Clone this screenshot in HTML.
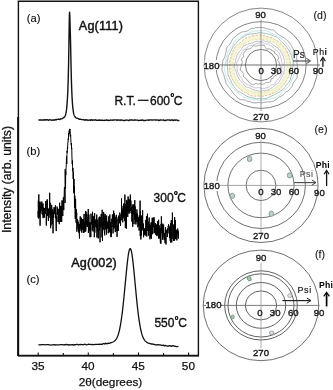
<!DOCTYPE html>
<html><head><meta charset="utf-8"><title>XRD figure</title>
<style>html,body{margin:0;padding:0;background:#fff;width:333px;height:390px;overflow:hidden}svg{display:block}</style>
</head><body>
<svg width="333" height="390" viewBox="0 0 333 390"><path d="M18.4 117 V1.2 H198.4 V355.6 H18.4 V117" fill="none" stroke="#111" stroke-width="1.4"/>
<line x1="18.1" y1="117" x2="18.1" y2="356" stroke="#111" stroke-width="2"/>
<line x1="18" y1="355.6" x2="199" y2="355.6" stroke="#111" stroke-width="1.8"/>
<line x1="38.2" y1="355" x2="38.2" y2="352.4" stroke="#111" stroke-width="1.1"/>
<line x1="63.3" y1="355" x2="63.3" y2="353.0" stroke="#111" stroke-width="1.1"/>
<line x1="88.3" y1="355" x2="88.3" y2="352.4" stroke="#111" stroke-width="1.1"/>
<line x1="113.4" y1="355" x2="113.4" y2="353.0" stroke="#111" stroke-width="1.1"/>
<line x1="138.5" y1="355" x2="138.5" y2="352.4" stroke="#111" stroke-width="1.1"/>
<line x1="163.6" y1="355" x2="163.6" y2="353.0" stroke="#111" stroke-width="1.1"/>
<line x1="188.6" y1="355" x2="188.6" y2="352.4" stroke="#111" stroke-width="1.1"/>
<path d="M38.40 120.00 L39.20 119.88 L40.00 120.23 L40.80 119.82 L41.60 120.14 L42.40 120.01 L43.20 119.79 L44.00 120.10 L44.80 119.76 L45.60 120.03 L46.40 119.77 L47.20 119.77 L48.00 120.00 L48.80 120.27 L49.60 119.76 L50.40 119.81 L51.20 120.08 L52.00 120.28 L52.80 119.99 L53.60 119.84 L54.40 120.21 L55.20 119.51 L56.00 120.02 L56.80 119.55 L57.60 119.37 L58.40 119.24 L59.20 119.25 L60.00 119.45 L60.80 118.80 L61.60 118.83 L62.40 118.55 L63.20 117.94 L64.00 117.43 L64.80 116.46 L64.90 116.29 L65.00 116.11 L65.10 115.90 L65.20 115.69 L65.30 115.44 L65.40 115.18 L65.50 114.89 L65.60 114.57 L65.70 114.22 L65.80 113.84 L65.90 113.41 L66.00 112.95 L66.10 112.43 L66.20 111.87 L66.30 111.25 L66.40 110.57 L66.50 109.83 L66.60 109.01 L66.70 108.12 L66.80 107.15 L66.90 106.09 L67.00 104.93 L67.10 103.67 L67.20 102.30 L67.30 100.82 L67.40 99.20 L67.50 97.44 L67.60 95.52 L67.70 93.44 L67.80 91.16 L67.90 88.68 L68.00 85.96 L68.10 82.97 L68.20 79.68 L68.30 76.05 L68.40 72.03 L68.50 67.57 L68.60 62.65 L68.70 57.22 L68.80 51.30 L68.90 44.93 L69.00 38.26 L69.10 31.55 L69.20 25.17 L69.30 19.61 L69.40 15.39 L69.50 12.87 L69.60 12.22 L69.70 13.25 L69.80 15.58 L69.90 18.70 L70.00 22.18 L70.10 25.72 L70.20 29.20 L70.30 32.69 L70.40 36.30 L70.50 40.19 L70.60 44.45 L70.70 49.05 L70.80 53.87 L70.90 58.76 L71.00 63.55 L71.10 68.12 L71.20 72.41 L71.30 76.36 L71.40 79.99 L71.50 83.29 L71.60 86.31 L71.70 89.05 L71.80 91.55 L71.90 93.83 L72.00 95.91 L72.10 97.82 L72.20 99.56 L72.30 101.16 L72.40 102.63 L72.50 103.97 L72.60 105.21 L72.70 106.34 L72.80 107.38 L72.90 108.33 L73.00 109.19 L73.10 109.99 L73.20 110.71 L73.30 111.38 L73.40 111.98 L73.50 112.53 L73.60 113.03 L73.70 113.49 L73.80 113.91 L73.90 114.29 L74.00 114.63 L74.10 114.94 L74.20 115.23 L74.30 115.49 L74.40 115.73 L74.50 115.95 L74.60 116.15 L75.40 117.28 L76.20 117.98 L77.00 118.09 L77.80 118.42 L78.60 118.79 L79.40 119.32 L80.20 119.31 L81.00 119.37 L81.80 119.66 L82.60 119.66 L83.40 119.62 L84.20 120.02 L85.00 120.00 L85.80 119.72 L86.60 119.99 L87.40 119.98 L88.20 120.25 L89.00 120.16 L89.80 119.87 L90.60 120.37 L91.40 119.78 L92.20 120.00 L93.00 120.25 L93.80 119.83 L94.60 120.08 L95.40 119.77 L96.20 120.22 L97.00 120.29 L97.80 120.16 L98.60 120.38 L99.40 119.99 L100.20 120.26 L101.00 120.19 L101.80 120.19 L102.60 120.10 L103.40 120.37 L104.20 120.45 L105.00 120.12 L105.80 120.26 L106.60 119.84 L107.40 120.29 L108.20 120.25 L109.00 120.50 L109.80 120.38 L110.60 120.01 L111.40 120.08 L112.20 120.28 L113.00 119.83 L113.80 120.14 L114.60 119.93 L115.40 119.90 L116.20 119.86 L117.00 120.36 L117.80 119.91 L118.60 119.99 L119.40 120.09 L120.20 120.43 L121.00 119.88 L121.80 120.14 L122.60 120.21 L123.40 120.44 L124.20 120.40 L125.00 120.43 L125.80 120.02 L126.60 120.12 L127.40 120.08 L128.20 120.45 L129.00 120.50 L129.80 119.94 L130.60 119.95 L131.40 119.99 L132.20 119.99 L133.00 120.17 L133.80 120.24 L134.60 120.02 L135.40 119.84 L136.20 120.13 L137.00 120.09 L137.80 120.23 L138.60 120.50 L139.40 120.32 L140.20 120.20 L141.00 120.27 L141.80 120.31 L142.60 119.87 L143.40 120.47 L144.20 120.38 L145.00 120.45 L145.80 120.40 L146.60 120.11 L147.40 120.12 L148.20 119.91 L149.00 120.28 L149.80 119.88 L150.60 119.89 L151.40 119.99 L152.20 119.95 L153.00 120.08 L153.80 119.88 L154.60 119.84 L155.40 119.95 L156.20 119.91 L157.00 120.10 L157.80 119.86 L158.60 120.45 L159.40 120.27 L160.20 119.95 L161.00 120.02 L161.80 120.08 L162.60 120.10 L163.40 119.93 L164.20 120.44 L165.00 120.54 L165.80 120.17 L166.60 120.18 L167.40 119.90 L168.20 119.91 L169.00 120.08 L169.80 120.03 L170.60 120.42 L171.40 119.96 L172.20 119.86 L173.00 120.51 L173.80 120.21 L174.60 119.95 L175.40 120.22 L176.20 119.86 L177.00 120.21 L177.80 120.53 L178.60 120.45 L179.40 120.33" fill="none" stroke="#111" stroke-width="1.4" stroke-linejoin="round"/>
<path d="M38.00 211.07 L38.16 217.62 L38.32 200.64 L38.48 209.28 L38.64 218.54 L38.80 194.40 L38.96 215.95 L39.12 202.04 L39.28 217.48 L39.44 212.84 L39.60 206.99 L39.76 208.04 L39.92 201.51 L40.08 225.73 L40.24 205.98 L40.40 212.79 L40.56 211.41 L40.72 211.47 L40.88 204.19 L41.04 202.25 L41.20 210.74 L41.36 207.64 L41.52 210.00 L41.68 209.75 L41.84 201.55 L42.00 214.25 L42.16 213.36 L42.32 211.79 L42.48 206.97 L42.64 204.58 L42.80 215.34 L42.96 203.33 L43.12 218.17 L43.28 209.17 L43.44 213.13 L43.60 216.70 L43.76 207.73 L43.92 209.43 L44.08 217.06 L44.24 208.82 L44.40 217.55 L44.56 208.26 L44.72 213.08 L44.88 210.53 L45.04 212.68 L45.20 208.50 L45.36 213.78 L45.52 213.69 L45.68 201.13 L45.84 213.37 L46.00 212.84 L46.16 213.93 L46.32 225.55 L46.48 214.57 L46.64 220.83 L46.80 210.78 L46.96 200.65 L47.12 211.67 L47.28 199.34 L47.44 210.39 L47.60 215.67 L47.76 209.63 L47.92 207.98 L48.08 215.83 L48.24 213.62 L48.40 217.65 L48.56 220.92 L48.72 208.98 L48.88 217.08 L49.04 217.88 L49.20 215.29 L49.36 209.92 L49.52 206.91 L49.68 192.74 L49.84 210.74 L50.00 214.71 L50.16 202.87 L50.32 215.09 L50.48 207.95 L50.64 228.18 L50.80 214.32 L50.96 225.55 L51.12 215.96 L51.28 210.35 L51.44 218.25 L51.60 204.85 L51.76 205.15 L51.92 210.91 L52.08 210.59 L52.24 223.97 L52.40 212.56 L52.56 213.88 L52.72 209.20 L52.88 209.89 L53.04 233.28 L53.20 214.26 L53.36 211.41 L53.52 211.48 L53.68 217.70 L53.84 211.86 L54.00 207.39 L54.16 207.15 L54.32 210.47 L54.48 208.39 L54.64 214.09 L54.80 213.18 L54.96 208.13 L55.12 212.50 L55.28 207.44 L55.44 205.38 L55.60 218.36 L55.76 211.96 L55.92 217.19 L56.08 225.55 L56.24 231.10 L56.40 218.41 L56.56 221.94 L56.72 216.28 L56.88 221.56 L57.04 206.55 L57.20 208.36 L57.36 214.76 L57.52 208.51 L57.68 211.70 L57.84 212.92 L58.00 213.34 L58.16 208.82 L58.32 221.93 L58.48 218.36 L58.64 219.77 L58.80 211.22 L58.96 211.09 L59.12 220.60 L59.28 224.18 L59.44 213.86 L59.60 202.71 L59.76 210.20 L59.92 210.33 L60.08 205.91 L60.24 212.01 L60.40 221.47 L60.56 206.55 L60.72 221.82 L60.88 212.91 L61.04 220.54 L61.20 218.70 L61.36 206.15 L61.52 208.80 L61.68 221.89 L61.84 210.27 L62.00 200.39 L62.16 207.21 L62.32 208.58 L62.48 210.37 L62.64 210.10 L62.80 216.00 L62.96 200.92 L63.12 209.56 L63.28 197.78 L63.44 197.32 L63.60 201.60 L63.76 210.11 L63.92 201.22 L64.08 197.91 L64.24 193.29 L64.40 187.05 L64.56 187.04 L64.72 192.07 L64.88 193.11 L65.04 203.07 L65.20 169.27 L65.36 181.60 L65.52 188.81 L65.68 172.34 L65.84 174.81 L66.00 169.06 L66.16 167.45 L66.32 164.66 L66.48 156.57 L66.64 161.69 L66.80 164.00 L66.96 154.65 L67.12 150.86 L67.28 152.63 L67.44 147.33 L67.60 148.59 L67.76 144.07 L67.92 142.16 L68.08 142.14 L68.24 138.90 L68.40 139.79 L68.56 133.08 L68.72 136.46 L68.88 133.37 L69.04 133.58 L69.20 130.64 L69.36 133.64 L69.52 128.88 L69.68 129.98 L69.84 130.12 L70.00 129.10 L70.16 131.10 L70.32 133.07 L70.48 136.25 L70.64 134.76 L70.80 138.80 L70.96 142.30 L71.12 144.31 L71.28 145.28 L71.44 143.02 L71.60 149.00 L71.76 148.19 L71.92 155.97 L72.08 160.63 L72.24 164.21 L72.40 160.37 L72.56 166.20 L72.72 171.29 L72.88 168.00 L73.04 172.45 L73.20 179.01 L73.36 171.80 L73.52 177.82 L73.68 189.48 L73.84 192.54 L74.00 178.90 L74.16 193.45 L74.32 186.09 L74.48 207.72 L74.64 204.64 L74.80 195.65 L74.96 204.40 L75.12 213.56 L75.28 219.04 L75.44 204.86 L75.60 198.83 L75.76 211.13 L75.92 212.05 L76.08 222.62 L76.24 216.80 L76.40 209.39 L76.56 215.43 L76.72 212.99 L76.88 231.61 L77.04 218.95 L77.20 219.25 L77.36 219.20 L77.52 225.73 L77.68 222.06 L77.84 220.39 L78.00 228.88 L78.16 223.24 L78.32 222.14 L78.48 231.50 L78.64 228.18 L78.80 224.25 L78.96 226.63 L79.12 233.36 L79.28 227.83 L79.44 238.59 L79.60 224.17 L79.76 227.89 L79.92 230.40 L80.08 221.81 L80.24 216.34 L80.40 228.30 L80.56 220.78 L80.72 226.55 L80.88 226.01 L81.04 224.73 L81.20 231.22 L81.36 217.71 L81.52 222.32 L81.68 227.46 L81.84 232.70 L82.00 225.91 L82.16 226.90 L82.32 227.32 L82.48 229.89 L82.64 219.21 L82.80 224.82 L82.96 219.20 L83.12 223.16 L83.28 220.51 L83.44 219.97 L83.60 232.91 L83.76 224.38 L83.92 232.55 L84.08 213.92 L84.24 226.68 L84.40 231.74 L84.56 227.41 L84.72 226.01 L84.88 223.83 L85.04 228.75 L85.20 222.08 L85.36 229.25 L85.52 210.95 L85.68 231.68 L85.84 230.22 L86.00 227.62 L86.16 211.75 L86.32 223.62 L86.48 224.43 L86.64 223.22 L86.80 221.27 L86.96 214.42 L87.12 226.96 L87.28 221.74 L87.44 226.65 L87.60 217.11 L87.76 225.32 L87.92 226.28 L88.08 225.89 L88.24 209.00 L88.40 232.89 L88.56 228.91 L88.72 229.38 L88.88 214.65 L89.04 222.09 L89.20 223.24 L89.36 229.15 L89.52 224.15 L89.68 230.90 L89.84 222.05 L90.00 237.21 L90.16 224.54 L90.32 229.03 L90.48 223.07 L90.64 228.50 L90.80 237.06 L90.96 213.61 L91.12 215.70 L91.28 218.11 L91.44 220.97 L91.60 224.36 L91.76 224.33 L91.92 224.10 L92.08 223.73 L92.24 230.24 L92.40 223.24 L92.56 211.72 L92.72 219.93 L92.88 227.80 L93.04 231.50 L93.20 226.09 L93.36 227.22 L93.52 216.40 L93.68 221.36 L93.84 219.89 L94.00 221.74 L94.16 219.45 L94.32 237.20 L94.48 220.73 L94.64 213.16 L94.80 232.73 L94.96 226.76 L95.12 226.51 L95.28 225.29 L95.44 221.76 L95.60 226.91 L95.76 219.30 L95.92 224.58 L96.08 221.27 L96.24 225.92 L96.40 226.83 L96.56 227.69 L96.72 214.61 L96.88 237.46 L97.04 228.44 L97.20 223.29 L97.36 223.04 L97.52 231.48 L97.68 219.62 L97.84 222.03 L98.00 222.39 L98.16 238.44 L98.32 228.59 L98.48 234.25 L98.64 237.65 L98.80 233.46 L98.96 217.45 L99.12 222.39 L99.28 230.27 L99.44 226.54 L99.60 216.64 L99.76 220.72 L99.92 228.68 L100.08 242.32 L100.24 225.46 L100.40 217.07 L100.56 217.70 L100.72 223.32 L100.88 226.40 L101.04 227.37 L101.20 214.01 L101.36 224.07 L101.52 214.96 L101.68 219.40 L101.84 225.01 L102.00 237.41 L102.16 209.79 L102.32 230.96 L102.48 240.84 L102.64 228.25 L102.80 223.41 L102.96 230.23 L103.12 227.41 L103.28 228.99 L103.44 222.36 L103.60 211.98 L103.76 225.06 L103.92 213.66 L104.08 225.06 L104.24 224.34 L104.40 230.45 L104.56 234.17 L104.72 235.33 L104.88 216.36 L105.04 224.09 L105.20 213.97 L105.36 222.73 L105.52 221.30 L105.68 229.31 L105.84 229.05 L106.00 227.43 L106.16 223.30 L106.32 232.16 L106.48 234.65 L106.64 215.50 L106.80 225.29 L106.96 221.19 L107.12 225.86 L107.28 228.16 L107.44 225.81 L107.60 225.45 L107.76 222.77 L107.92 228.68 L108.08 227.74 L108.24 233.31 L108.40 229.46 L108.56 223.69 L108.72 217.68 L108.88 216.28 L109.04 225.32 L109.20 226.29 L109.36 220.39 L109.52 232.26 L109.68 224.93 L109.84 214.52 L110.00 225.54 L110.16 222.56 L110.32 227.89 L110.48 233.03 L110.64 226.77 L110.80 221.97 L110.96 237.14 L111.12 229.03 L111.28 236.67 L111.44 225.73 L111.60 224.93 L111.76 218.77 L111.92 225.40 L112.08 226.84 L112.24 221.31 L112.40 214.41 L112.56 219.15 L112.72 222.98 L112.88 224.23 L113.04 233.42 L113.20 225.71 L113.36 224.21 L113.52 224.32 L113.68 210.63 L113.84 228.61 L114.00 221.11 L114.16 218.47 L114.32 217.95 L114.48 213.43 L114.64 226.59 L114.80 215.62 L114.96 227.93 L115.12 226.15 L115.28 232.12 L115.44 224.87 L115.60 225.01 L115.76 217.16 L115.92 226.41 L116.08 230.92 L116.24 224.06 L116.40 214.83 L116.56 221.38 L116.72 221.69 L116.88 217.31 L117.04 236.88 L117.20 225.69 L117.36 230.89 L117.52 227.47 L117.68 229.19 L117.84 229.73 L118.00 219.43 L118.16 225.55 L118.32 230.93 L118.48 224.21 L118.64 215.64 L118.80 216.80 L118.96 220.95 L119.12 218.93 L119.28 218.32 L119.44 220.26 L119.60 223.29 L119.76 212.61 L119.92 214.36 L120.08 218.20 L120.24 217.13 L120.40 220.55 L120.56 225.86 L120.72 216.23 L120.88 214.51 L121.04 215.65 L121.20 217.41 L121.36 220.24 L121.52 198.33 L121.68 217.24 L121.84 214.62 L122.00 217.88 L122.16 215.06 L122.32 208.77 L122.48 212.60 L122.64 220.24 L122.80 222.33 L122.96 212.83 L123.12 205.97 L123.28 215.26 L123.44 217.23 L123.60 207.82 L123.76 203.51 L123.92 214.08 L124.08 207.47 L124.24 218.77 L124.40 210.10 L124.56 220.76 L124.72 208.00 L124.88 194.64 L125.04 207.66 L125.20 213.47 L125.36 228.13 L125.52 204.14 L125.68 210.42 L125.84 212.27 L126.00 207.51 L126.16 213.23 L126.32 206.19 L126.48 228.60 L126.64 199.90 L126.80 208.08 L126.96 203.20 L127.12 204.23 L127.28 200.80 L127.44 210.97 L127.60 208.88 L127.76 216.91 L127.92 203.94 L128.08 196.49 L128.24 202.55 L128.40 208.90 L128.56 198.43 L128.72 212.45 L128.88 207.50 L129.04 213.74 L129.20 200.15 L129.36 212.45 L129.52 201.98 L129.68 199.41 L129.84 209.60 L130.00 207.84 L130.16 211.02 L130.32 194.64 L130.48 201.97 L130.64 205.39 L130.80 201.79 L130.96 200.58 L131.12 213.13 L131.28 208.20 L131.44 209.97 L131.60 206.95 L131.76 214.63 L131.92 221.59 L132.08 204.59 L132.24 204.58 L132.40 209.27 L132.56 217.15 L132.72 226.81 L132.88 211.54 L133.04 214.39 L133.20 211.72 L133.36 207.07 L133.52 205.94 L133.68 207.99 L133.84 204.29 L134.00 224.17 L134.16 214.28 L134.32 204.70 L134.48 217.12 L134.64 209.02 L134.80 200.23 L134.96 219.70 L135.12 206.47 L135.28 213.81 L135.44 223.17 L135.60 220.04 L135.76 215.59 L135.92 224.48 L136.08 222.12 L136.24 213.20 L136.40 217.78 L136.56 219.67 L136.72 221.59 L136.88 209.46 L137.04 214.45 L137.20 221.08 L137.36 216.52 L137.52 213.76 L137.68 215.25 L137.84 227.28 L138.00 217.14 L138.16 217.61 L138.32 222.06 L138.48 220.74 L138.64 219.77 L138.80 225.68 L138.96 216.86 L139.12 230.56 L139.28 218.03 L139.44 215.56 L139.60 217.90 L139.76 221.39 L139.92 217.34 L140.08 200.58 L140.24 236.02 L140.40 210.85 L140.56 231.09 L140.72 216.62 L140.88 239.46 L141.04 226.24 L141.20 224.22 L141.36 219.08 L141.52 235.38 L141.68 215.55 L141.84 224.05 L142.00 219.16 L142.16 229.41 L142.32 228.82 L142.48 220.81 L142.64 210.20 L142.80 225.66 L142.96 223.90 L143.12 231.00 L143.28 227.01 L143.44 223.57 L143.60 237.24 L143.76 229.97 L143.92 233.36 L144.08 229.53 L144.24 232.36 L144.40 234.15 L144.56 228.62 L144.72 228.06 L144.88 231.29 L145.04 235.08 L145.20 229.67 L145.36 235.50 L145.52 227.25 L145.68 232.55 L145.84 219.94 L146.00 231.22 L146.16 226.17 L146.32 227.05 L146.48 216.02 L146.64 229.36 L146.80 236.51 L146.96 227.53 L147.12 225.60 L147.28 227.23 L147.44 213.74 L147.60 223.59 L147.76 228.68 L147.92 231.06 L148.08 222.29 L148.24 225.47 L148.40 221.70 L148.56 235.55 L148.72 228.56 L148.88 223.40 L149.04 222.33 L149.20 217.52 L149.36 230.44 L149.52 228.84 L149.68 224.14 L149.84 224.52 L150.00 239.31 L150.16 225.59 L150.32 237.59 L150.48 225.58 L150.64 231.49 L150.80 228.03 L150.96 230.82 L151.12 222.33 L151.28 227.36 L151.44 238.54 L151.60 222.60 L151.76 222.87 L151.92 227.69 L152.08 221.91 L152.24 217.75 L152.40 234.26 L152.56 218.85 L152.72 221.46 L152.88 233.59 L153.04 229.05 L153.20 225.12 L153.36 217.76 L153.52 224.83 L153.68 227.04 L153.84 223.91 L154.00 217.18 L154.16 219.23 L154.32 225.71 L154.48 233.14 L154.64 227.46 L154.80 225.36 L154.96 230.17 L155.12 231.02 L155.28 223.03 L155.44 229.97 L155.60 225.14 L155.76 234.80 L155.92 224.71 L156.08 230.91 L156.24 233.08 L156.40 224.57 L156.56 235.32 L156.72 230.63 L156.88 231.03 L157.04 236.18 L157.20 234.81 L157.36 225.23 L157.52 221.35 L157.68 234.96 L157.84 224.22 L158.00 234.04 L158.16 227.64 L158.32 223.08 L158.48 225.38 L158.64 219.77 L158.80 238.72 L158.96 234.41 L159.12 225.20 L159.28 237.29 L159.44 233.12 L159.60 234.42 L159.76 228.89 L159.92 238.52 L160.08 227.71 L160.24 238.35 L160.40 243.07 L160.56 234.57 L160.72 231.28 L160.88 243.83 L161.04 223.89 L161.20 230.70 L161.36 216.32 L161.52 221.97 L161.68 224.93 L161.84 230.23 L162.00 233.42 L162.16 230.65 L162.32 224.91 L162.48 236.62 L162.64 239.79 L162.80 223.65 L162.96 237.55 L163.12 229.04 L163.28 227.97 L163.44 233.59 L163.60 224.60 L163.76 231.01 L163.92 232.66 L164.08 238.04 L164.24 240.15 L164.40 233.37 L164.56 234.67 L164.72 234.19 L164.88 236.79 L165.04 243.18 L165.20 241.63 L165.36 228.91 L165.52 227.39 L165.68 230.76 L165.84 234.93 L166.00 244.43 L166.16 230.86 L166.32 232.66 L166.48 229.84 L166.64 232.15 L166.80 230.98 L166.96 231.38 L167.12 231.45 L167.28 233.67 L167.44 237.02 L167.60 228.35 L167.76 229.88 L167.92 230.36 L168.08 227.53 L168.24 225.99 L168.40 227.02 L168.56 224.35 L168.72 225.41 L168.88 232.09 L169.04 233.55 L169.20 231.14 L169.36 229.56 L169.52 237.98 L169.68 226.48 L169.84 229.33 L170.00 227.77 L170.16 240.58 L170.32 233.76 L170.48 223.22 L170.64 242.47 L170.80 228.99 L170.96 235.23 L171.12 233.95 L171.28 220.14 L171.44 231.11 L171.60 234.58 L171.76 242.41 L171.92 233.62 L172.08 238.90 L172.24 236.29 L172.40 212.59 L172.56 226.99 L172.72 227.73 L172.88 227.07 L173.04 230.53 L173.20 234.22 L173.36 224.49 L173.52 233.87 L173.68 241.03 L173.84 240.68 L174.00 233.49 L174.16 240.94 L174.32 233.36 L174.48 231.94 L174.64 217.10 L174.80 227.76 L174.96 232.70 L175.12 237.72 L175.28 236.79 L175.44 220.17 L175.60 239.20 L175.76 234.85 L175.92 232.55 L176.08 238.73 L176.24 230.38 L176.40 232.17 L176.56 235.83 L176.72 233.07 L176.88 240.38 L177.04 229.47 L177.20 233.89 L177.36 231.71 L177.52 230.72 L177.68 228.55 L177.84 229.58 L178.00 229.75 L178.16 237.50 L178.32 231.42 L178.48 238.68 L178.64 238.38" fill="none" stroke="#000" stroke-width="1.0" stroke-linejoin="miter"/>
<path d="M38.40 344.71 L39.40 344.87 L40.40 344.92 L41.40 344.61 L42.40 344.58 L43.40 344.59 L44.40 344.71 L45.40 344.80 L46.40 344.70 L47.40 344.67 L48.40 344.54 L49.40 344.90 L50.40 345.13 L51.40 344.95 L52.40 344.91 L53.40 344.97 L54.40 344.61 L55.40 345.01 L56.40 344.81 L57.40 344.87 L58.40 344.92 L59.40 344.80 L60.40 344.67 L61.40 344.61 L62.40 344.59 L63.40 344.81 L64.40 344.70 L65.40 344.86 L66.40 344.39 L67.40 344.66 L68.40 345.06 L69.40 344.55 L70.40 344.80 L71.40 344.74 L72.40 344.56 L73.40 345.12 L74.40 344.55 L75.40 344.92 L76.40 344.42 L77.40 344.34 L78.40 344.97 L79.40 344.61 L80.40 344.30 L81.40 344.54 L82.40 344.57 L83.40 344.79 L84.40 344.27 L85.40 344.34 L86.40 344.91 L87.40 344.71 L88.40 344.23 L89.40 344.35 L90.40 344.33 L91.40 344.56 L92.40 344.49 L93.40 344.64 L94.40 344.58 L95.40 344.30 L96.40 344.44 L97.40 344.40 L98.40 344.36 L99.40 344.08 L100.40 344.27 L101.40 344.14 L102.40 344.23 L103.40 343.53 L104.40 344.03 L105.40 343.24 L105.90 343.80 L106.40 343.59 L106.90 343.46 L107.40 343.77 L107.90 343.39 L108.40 343.19 L108.90 343.40 L109.40 343.38 L109.90 343.07 L110.40 342.87 L110.90 342.74 L111.40 342.60 L111.90 342.44 L112.40 342.25 L112.90 342.03 L113.40 341.77 L113.90 341.46 L114.40 341.10 L114.90 340.66 L115.40 340.13 L115.90 339.50 L116.40 338.74 L116.90 337.85 L117.40 336.78 L117.90 335.52 L118.40 334.03 L118.90 332.31 L119.40 330.31 L119.90 328.01 L120.40 325.40 L120.90 322.46 L121.40 319.17 L121.90 315.53 L122.40 311.55 L122.90 307.24 L123.40 302.63 L123.90 297.75 L124.40 292.66 L124.90 287.42 L125.40 282.11 L125.90 276.82 L126.40 271.64 L126.90 266.69 L127.40 262.09 L127.90 257.97 L128.40 254.46 L128.90 251.68 L129.40 249.72 L129.90 248.67 L130.40 248.59 L130.90 249.47 L131.40 251.27 L131.90 253.91 L132.40 257.31 L132.90 261.33 L133.40 265.86 L133.90 270.77 L134.40 275.93 L134.90 281.23 L135.40 286.56 L135.90 291.84 L136.40 296.99 L136.90 301.93 L137.40 306.61 L137.90 311.00 L138.40 315.07 L138.90 318.79 L139.40 322.17 L139.90 325.20 L140.40 327.90 L140.90 330.27 L141.40 332.35 L141.90 334.15 L142.40 335.69 L142.90 337.01 L143.40 338.14 L143.90 339.09 L144.40 339.89 L144.90 340.56 L145.40 341.12 L145.90 341.60 L146.40 342.00 L146.90 342.34 L147.40 342.62 L147.90 342.87 L148.40 343.08 L148.90 343.27 L149.40 343.43 L149.90 343.58 L150.40 343.61 L150.90 343.79 L151.40 343.91 L151.90 344.22 L152.40 343.97 L152.90 344.14 L153.40 344.36 L153.90 344.30 L154.40 344.33 L154.90 344.77 L155.40 344.89 L156.40 344.74 L157.40 344.82 L158.40 344.72 L159.40 344.92 L160.40 344.90 L161.40 345.33 L162.40 345.43 L163.40 345.12 L164.40 345.86 L165.40 345.46 L166.40 345.95 L167.40 346.02 L168.40 346.18 L169.40 345.65 L170.40 345.89 L171.40 346.34 L172.40 345.68 L173.40 345.76 L174.40 346.24 L175.40 346.24 L176.40 346.63 L177.40 346.57 L178.40 346.43" fill="none" stroke="#111" stroke-width="1.3" stroke-linejoin="round"/>
<text x="26.7" y="22.0" font-size="11.2" text-anchor="start" fill="#111" font-weight="normal" stroke="#111" stroke-width="0.15" font-family="Liberation Sans, Arial, sans-serif" >(a)</text>
<text x="78.8" y="30.0" font-size="12.6" text-anchor="start" fill="#111" font-weight="normal" stroke="#111" stroke-width="0.45" font-family="Liberation Sans, Arial, sans-serif" letter-spacing="0.2">Ag(111)</text>
<text x="114.4" y="104.7" font-size="12" text-anchor="start" fill="#111" font-weight="normal" stroke="#111" stroke-width="0.35" font-family="Liberation Sans, Arial, sans-serif" >R.T.</text>
<line x1="137.8" y1="100.3" x2="148.6" y2="100.3" stroke="#111" stroke-width="1.25"/>
<text x="150.0" y="104.7" font-size="12" text-anchor="start" fill="#111" font-weight="normal" stroke="#111" stroke-width="0.35" font-family="Liberation Sans, Arial, sans-serif" >600<tspan font-size="10.5" dy="-3.4" dx="0.1" stroke-width="0.55">°</tspan><tspan dy="3.4" dx="-0.6">C</tspan></text>
<text x="26.5" y="155.0" font-size="11.2" text-anchor="start" fill="#111" font-weight="normal" stroke="#111" stroke-width="0.15" font-family="Liberation Sans, Arial, sans-serif" >(b)</text>
<text x="153.6" y="202" font-size="12" text-anchor="start" fill="#111" font-weight="normal" stroke="#111" stroke-width="0.35" font-family="Liberation Sans, Arial, sans-serif" >300<tspan font-size="10.5" dy="-3.4" dx="0.1" stroke-width="0.55">°</tspan><tspan dy="3.4" dx="-0.6">C</tspan></text>
<text x="26.5" y="283.0" font-size="11.2" text-anchor="start" fill="#111" font-weight="normal" stroke="#111" stroke-width="0.15" font-family="Liberation Sans, Arial, sans-serif" >(c)</text>
<text x="71.3" y="267.4" font-size="12.6" text-anchor="start" fill="#111" font-weight="normal" stroke="#111" stroke-width="0.45" font-family="Liberation Sans, Arial, sans-serif" letter-spacing="0.1">Ag(002)</text>
<text x="154.4" y="327" font-size="12" text-anchor="start" fill="#111" font-weight="normal" stroke="#111" stroke-width="0.35" font-family="Liberation Sans, Arial, sans-serif" >550<tspan font-size="10.5" dy="-3.4" dx="0.1" stroke-width="0.55">°</tspan><tspan dy="3.4" dx="-0.6">C</tspan></text>
<text x="38.0" y="369.6" font-size="11.8" text-anchor="middle" fill="#111" font-weight="normal" stroke="#111" stroke-width="0.25" font-family="Liberation Sans, Arial, sans-serif" >35</text>
<text x="88.1" y="369.6" font-size="11.8" text-anchor="middle" fill="#111" font-weight="normal" stroke="#111" stroke-width="0.25" font-family="Liberation Sans, Arial, sans-serif" >40</text>
<text x="138.3" y="369.6" font-size="11.8" text-anchor="middle" fill="#111" font-weight="normal" stroke="#111" stroke-width="0.25" font-family="Liberation Sans, Arial, sans-serif" >45</text>
<text x="188.4" y="369.6" font-size="11.8" text-anchor="middle" fill="#111" font-weight="normal" stroke="#111" stroke-width="0.25" font-family="Liberation Sans, Arial, sans-serif" >50</text>
<text x="110.5" y="386" font-size="11.8" text-anchor="middle" fill="#111" font-weight="normal" stroke="#111" stroke-width="0.25" font-family="Liberation Sans, Arial, sans-serif" >2θ(degrees)</text>
<text transform="translate(11.2,179.5) rotate(-90)" font-size="12.2" text-anchor="middle" fill="#111" stroke="#111" stroke-width="0.3" font-family="Liberation Sans, Arial, sans-serif">Intensity (arb. units)</text>
<ellipse cx="261" cy="65" rx="56.90" ry="56.90" fill="none" stroke="#666" stroke-width="0.8"/>
<ellipse cx="261" cy="65" rx="45.14" ry="43.40" fill="none" stroke="#666" stroke-width="0.8"/>
<ellipse cx="259.9" cy="65.8" rx="28.8" ry="28.2" fill="none" stroke="#f3f6d2" stroke-width="4.0"/>
<path d="M297.44 65.80 L297.46 67.77 L297.57 69.76 L297.71 71.79 L297.33 73.76 L297.17 75.79 L297.10 77.89 L295.75 79.56 L294.73 81.31 L293.19 82.76 L292.62 84.69 L291.92 86.60 L290.50 88.03 L289.47 89.75 L287.91 91.02 L285.99 91.89 L284.56 93.19 L283.27 94.66 L281.77 95.91 L279.86 96.54 L278.23 97.55 L276.82 99.01 L275.17 100.09 L273.48 101.17 L271.58 101.74 L269.57 101.88 L267.56 101.82 L265.65 102.13 L263.76 102.49 L261.84 102.86 L259.90 102.71 L257.98 102.43 L255.99 102.99 L254.04 102.80 L252.07 102.63 L250.27 101.74 L248.30 101.50 L246.48 100.77 L244.70 99.93 L242.57 99.81 L240.43 99.52 L238.65 98.52 L237.03 97.28 L235.82 95.54 L234.21 94.34 L232.89 92.81 L231.84 91.07 L230.62 89.51 L229.41 87.96 L228.22 86.38 L227.11 84.73 L225.92 83.11 L225.54 81.10 L225.04 79.18 L224.35 77.35 L224.03 75.41 L223.41 73.56 L222.45 71.73 L221.98 69.79 L221.99 67.79 L222.33 65.80 L222.44 63.84 L222.67 61.89 L223.04 59.96 L224.04 58.18 L224.93 56.43 L225.37 54.58 L225.90 52.75 L226.15 50.77 L226.37 48.71 L227.24 46.94 L228.67 45.52 L229.88 43.99 L230.97 42.37 L231.82 40.51 L232.81 38.71 L234.34 37.41 L235.91 36.18 L237.24 34.62 L239.05 33.70 L240.73 32.59 L242.56 31.78 L244.69 31.64 L246.61 31.17 L248.40 30.42 L250.10 29.21 L251.89 28.13 L253.97 28.38 L255.90 27.70 L257.90 27.57 L259.90 27.39 L261.91 27.50 L263.90 27.75 L265.81 28.47 L267.74 28.94 L269.66 29.36 L271.55 29.95 L273.61 30.08 L275.20 31.43 L276.56 33.10 L278.11 34.26 L279.69 35.33 L281.35 36.28 L283.04 37.22 L284.70 38.26 L286.21 39.49 L287.68 40.79 L289.09 42.16 L290.19 43.79 L291.33 45.39 L292.04 47.24 L293.03 48.92 L294.17 50.54 L295.27 52.22 L296.26 53.98 L296.83 55.91 L296.58 58.00 L296.99 59.93 L297.03 61.90 L296.92 63.86 L297.44 65.80Z" fill="none" stroke="#8a8a8a" stroke-width="0.75" stroke-linejoin="round"/>
<path d="M294.83 65.80 L295.05 67.64 L294.95 69.48 L294.46 71.27 L294.17 73.08 L293.78 74.88 L293.34 76.66 L292.59 78.35 L291.93 80.06 L291.07 81.68 L290.36 83.38 L289.59 85.08 L288.54 86.61 L287.13 87.85 L285.68 89.01 L284.23 90.13 L282.90 91.35 L281.70 92.73 L280.54 94.20 L279.05 95.28 L277.46 96.22 L275.90 97.20 L274.16 97.83 L272.46 98.51 L270.64 98.85 L268.81 99.04 L267.04 99.38 L265.25 99.61 L263.51 100.15 L261.73 100.63 L259.90 100.48 L258.11 99.98 L256.32 99.89 L254.55 99.57 L252.76 99.39 L250.93 99.28 L249.15 98.88 L247.40 98.38 L245.74 97.60 L243.90 97.20 L242.22 96.42 L240.85 95.13 L239.33 94.11 L238.05 92.78 L236.79 91.46 L235.34 90.36 L233.91 89.20 L232.48 88.00 L231.56 86.39 L230.53 84.87 L229.80 83.18 L228.67 81.71 L227.76 80.11 L227.18 78.36 L226.52 76.65 L225.79 74.94 L225.26 73.16 L224.84 71.35 L224.71 69.50 L224.79 67.64 L225.00 65.80 L225.59 64.00 L225.49 62.18 L225.89 60.41 L225.87 58.57 L226.58 56.87 L226.93 55.09 L227.66 53.43 L228.37 51.76 L229.09 50.10 L229.95 48.51 L231.01 47.04 L232.14 45.63 L233.13 44.12 L233.97 42.46 L234.96 40.86 L236.43 39.73 L238.14 38.93 L239.56 37.80 L241.13 36.89 L242.60 35.84 L244.29 35.16 L245.80 34.14 L247.57 33.68 L249.15 32.70 L250.87 32.10 L252.61 31.49 L254.37 30.86 L256.25 31.09 L258.07 30.91 L259.90 30.66 L261.74 30.72 L263.60 30.63 L265.48 30.54 L267.25 31.24 L269.01 31.80 L270.63 32.77 L272.36 33.34 L273.97 34.20 L275.63 34.94 L277.03 36.13 L278.78 36.72 L280.19 37.88 L281.97 38.54 L283.22 39.90 L284.49 41.21 L285.73 42.54 L286.60 44.18 L287.76 45.56 L289.09 46.84 L289.98 48.43 L290.65 50.13 L291.68 51.65 L292.00 53.48 L292.55 55.19 L293.13 56.90 L293.48 58.66 L293.67 60.45 L293.65 62.25 L294.16 64.00 L294.83 65.80Z" fill="none" stroke="#b4dce4" stroke-width="0.75" stroke-linejoin="round"/>
<path d="M293.09 65.80 L292.63 67.52 L292.40 69.22 L292.47 70.96 L291.97 72.62 L291.53 74.28 L291.31 76.01 L290.69 77.62 L290.32 79.35 L289.56 80.91 L288.71 82.43 L287.45 83.69 L286.45 85.09 L285.44 86.48 L284.32 87.79 L283.26 89.16 L281.96 90.31 L280.42 91.14 L279.11 92.24 L277.63 93.10 L276.11 93.88 L274.55 94.56 L273.11 95.46 L271.48 95.96 L269.96 96.75 L268.42 97.59 L266.79 98.23 L265.11 98.72 L263.35 98.66 L261.63 98.78 L259.90 98.63 L258.17 98.84 L256.43 98.79 L254.75 98.32 L253.06 97.97 L251.39 97.57 L249.64 97.37 L248.04 96.68 L246.43 96.05 L244.99 95.07 L243.52 94.18 L242.07 93.26 L240.52 92.47 L238.91 91.71 L237.47 90.71 L236.14 89.56 L235.11 88.12 L234.02 86.76 L233.03 85.32 L232.06 83.88 L231.36 82.28 L230.85 80.60 L229.97 79.12 L229.24 77.57 L228.58 75.98 L228.18 74.30 L227.88 72.61 L227.97 70.86 L227.65 69.19 L227.51 67.50 L227.32 65.80 L227.23 64.09 L227.00 62.34 L227.20 60.62 L227.83 58.98 L227.96 57.24 L228.60 55.63 L229.38 54.08 L230.17 52.56 L230.86 51.00 L231.57 49.44 L232.50 48.01 L233.14 46.36 L234.33 45.09 L235.36 43.70 L236.72 42.62 L237.81 41.26 L239.00 39.99 L240.38 38.93 L241.68 37.74 L243.28 37.01 L244.82 36.21 L246.28 35.20 L247.96 34.69 L249.63 34.20 L251.36 33.94 L253.09 33.75 L254.82 33.70 L256.50 33.42 L258.17 32.83 L259.90 32.92 L261.63 32.81 L263.34 33.08 L265.01 33.51 L266.71 33.74 L268.39 34.10 L270.04 34.59 L271.63 35.24 L273.22 35.88 L274.85 36.46 L276.49 37.06 L277.88 38.11 L279.16 39.30 L280.39 40.50 L281.46 41.86 L282.72 42.98 L284.18 43.94 L285.27 45.25 L286.38 46.56 L287.24 48.04 L288.37 49.36 L289.39 50.77 L290.05 52.38 L290.86 53.92 L291.33 55.59 L291.61 57.30 L292.36 58.90 L292.85 60.58 L293.27 62.29 L293.19 64.06 L293.09 65.80Z" fill="none" stroke="#7fae9c" stroke-width="0.75" stroke-linejoin="round"/>
<path d="M290.84 65.80 L290.85 67.42 L290.71 69.04 L290.32 70.62 L290.01 72.20 L289.59 73.76 L289.31 75.36 L288.67 76.84 L287.88 78.26 L287.01 79.61 L286.19 80.98 L285.50 82.42 L284.55 83.71 L283.52 84.93 L282.47 86.12 L281.31 87.21 L280.31 88.47 L279.26 89.71 L278.02 90.74 L276.63 91.56 L275.16 92.24 L273.62 92.72 L272.27 93.58 L270.84 94.29 L269.33 94.81 L267.76 95.13 L266.22 95.53 L264.64 95.72 L263.10 96.21 L261.50 96.32 L259.90 96.21 L258.31 96.04 L256.71 96.16 L255.10 96.08 L253.45 96.14 L251.83 95.92 L250.30 95.35 L248.82 94.66 L247.35 93.98 L245.93 93.22 L244.54 92.40 L243.17 91.56 L241.81 90.70 L240.70 89.51 L239.46 88.50 L238.13 87.57 L237.08 86.35 L236.07 85.10 L235.25 83.71 L234.46 82.32 L233.41 81.10 L232.67 79.67 L231.78 78.32 L231.20 76.82 L230.63 75.31 L230.37 73.71 L230.04 72.15 L229.69 70.58 L229.72 68.97 L229.69 67.38 L229.65 65.80 L229.87 64.23 L229.85 62.64 L229.87 61.04 L230.00 59.44 L230.52 57.93 L231.17 56.46 L231.64 54.95 L232.13 53.44 L232.59 51.88 L233.37 50.48 L234.02 49.00 L234.87 47.61 L235.80 46.28 L236.88 45.07 L238.01 43.91 L239.49 43.13 L240.76 42.17 L241.93 41.07 L243.20 40.08 L244.52 39.17 L245.83 38.18 L247.35 37.61 L248.85 37.03 L250.43 36.66 L251.96 36.18 L253.50 35.69 L255.10 35.49 L256.69 35.26 L258.28 34.98 L259.90 35.05 L261.51 35.12 L263.11 35.30 L264.67 35.70 L266.21 36.10 L267.69 36.75 L269.19 37.20 L270.71 37.65 L272.31 37.93 L273.69 38.73 L275.06 39.55 L276.40 40.39 L277.76 41.22 L279.07 42.12 L280.36 43.08 L281.36 44.34 L282.42 45.52 L283.64 46.58 L284.70 47.78 L285.87 48.94 L286.44 50.48 L287.13 51.92 L287.74 53.40 L288.23 54.92 L289.00 56.34 L289.42 57.89 L289.79 59.45 L290.18 61.00 L290.40 62.59 L290.80 64.18 L290.84 65.80Z" fill="none" stroke="#d99c70" stroke-width="0.75" stroke-linejoin="round" stroke-dasharray="2.4 1.3"/>
<path d="M286.76 65.80 L286.91 67.22 L286.87 68.63 L286.25 69.97 L285.86 71.32 L285.37 72.62 L284.82 73.90 L284.57 75.27 L284.25 76.64 L283.63 77.89 L283.02 79.15 L282.16 80.26 L281.44 81.45 L280.61 82.57 L279.77 83.69 L278.83 84.73 L277.72 85.59 L276.74 86.60 L275.67 87.50 L274.63 88.47 L273.30 89.02 L272.01 89.57 L270.73 90.11 L269.43 90.62 L268.12 91.10 L266.79 91.53 L265.47 91.99 L264.10 92.29 L262.72 92.59 L261.33 93.00 L259.90 92.98 L258.47 93.11 L257.06 92.85 L255.71 92.28 L254.32 92.07 L252.92 91.87 L251.57 91.45 L250.20 91.07 L248.89 90.52 L247.80 89.55 L246.57 88.90 L245.46 88.03 L244.25 87.34 L243.11 86.54 L242.19 85.47 L241.18 84.52 L240.09 83.64 L238.95 82.76 L238.17 81.58 L237.47 80.36 L236.82 79.12 L236.17 77.89 L235.68 76.58 L235.07 75.33 L234.50 74.05 L234.28 72.66 L233.89 71.33 L233.75 69.94 L233.40 68.58 L233.16 67.20 L233.42 65.80 L233.37 64.41 L233.42 63.02 L233.53 61.62 L233.48 60.18 L233.43 58.71 L233.83 57.33 L234.66 56.11 L235.18 54.79 L235.77 53.51 L236.61 52.35 L237.26 51.10 L238.24 50.07 L239.07 48.93 L239.90 47.79 L240.83 46.73 L241.79 45.69 L243.04 44.98 L244.20 44.20 L245.34 43.38 L246.55 42.67 L247.71 41.88 L248.92 41.13 L250.15 40.40 L251.56 40.12 L252.99 40.00 L254.32 39.54 L255.73 39.48 L257.12 39.37 L258.52 39.47 L259.90 39.48 L261.28 39.53 L262.66 39.55 L264.08 39.43 L265.43 39.79 L266.81 40.02 L268.05 40.72 L269.43 40.98 L270.78 41.37 L272.08 41.89 L273.41 42.40 L274.56 43.23 L275.80 43.91 L276.89 44.81 L277.95 45.75 L279.08 46.62 L279.82 47.87 L280.59 49.05 L281.51 50.10 L282.30 51.25 L283.28 52.30 L283.95 53.55 L284.72 54.75 L285.02 56.16 L285.39 57.52 L286.07 58.79 L286.25 60.20 L286.73 61.55 L286.88 62.96 L286.85 64.39 L286.76 65.80Z" fill="none" stroke="#e4c09c" stroke-width="0.6" stroke-linejoin="round" stroke-dasharray="1.6 2"/>
<path d="M284.20 65.80 L284.46 67.09 L284.18 68.35 L284.25 69.66 L284.20 70.97 L283.81 72.21 L283.64 73.51 L282.97 74.65 L282.55 75.89 L281.79 76.95 L281.23 78.12 L280.68 79.30 L279.96 80.38 L279.35 81.55 L278.45 82.50 L277.54 83.44 L276.40 84.12 L275.24 84.74 L274.48 85.86 L273.36 86.52 L272.42 87.48 L271.21 88.01 L270.08 88.67 L269.09 89.73 L267.78 90.06 L266.48 90.37 L265.20 90.75 L263.85 90.72 L262.51 90.60 L261.23 91.14 L259.90 91.14 L258.57 91.13 L257.29 90.60 L255.99 90.47 L254.76 89.99 L253.48 89.77 L252.24 89.36 L251.13 88.64 L249.95 88.14 L248.78 87.62 L247.53 87.23 L246.30 86.74 L245.15 86.10 L244.17 85.22 L243.56 83.95 L242.55 83.15 L241.75 82.15 L240.82 81.25 L239.82 80.39 L239.25 79.21 L238.71 78.03 L238.02 76.95 L237.30 75.86 L237.02 74.58 L236.29 73.47 L236.38 72.10 L235.69 70.95 L235.09 69.73 L234.86 68.43 L234.18 67.15 L234.35 65.80 L234.51 64.47 L235.05 63.19 L235.27 61.90 L235.44 60.60 L235.46 59.25 L236.24 58.11 L236.52 56.83 L236.91 55.56 L237.34 54.31 L238.14 53.24 L238.94 52.19 L239.83 51.22 L240.65 50.22 L241.63 49.35 L242.13 48.03 L242.92 46.94 L243.89 46.03 L245.24 45.63 L246.21 44.73 L247.58 44.45 L248.71 43.83 L249.89 43.33 L251.12 42.93 L252.45 42.87 L253.58 42.21 L254.80 41.83 L256.04 41.45 L257.32 41.24 L258.62 41.35 L259.90 41.50 L261.18 41.47 L262.49 41.12 L263.84 40.90 L265.10 41.34 L266.37 41.66 L267.75 41.65 L268.96 42.21 L270.17 42.73 L271.28 43.47 L272.37 44.20 L273.40 45.01 L274.36 45.89 L275.52 46.51 L276.62 47.24 L277.94 47.76 L278.56 49.00 L279.46 49.96 L280.33 50.96 L280.88 52.17 L281.85 53.13 L282.55 54.26 L282.92 55.55 L283.45 56.76 L283.69 58.07 L284.26 59.27 L284.36 60.60 L284.57 61.89 L284.10 63.26 L284.01 64.54 L284.20 65.80Z" fill="none" stroke="#9a9a9a" stroke-width="0.65" stroke-linejoin="round"/>
<path d="M281.86 65.80 L281.97 66.96 L281.62 68.08 L281.69 69.25 L281.67 70.43 L282.03 71.73 L281.73 72.89 L281.57 74.12 L280.93 75.16 L280.16 76.12 L279.63 77.19 L279.06 78.24 L278.10 79.02 L277.41 79.98 L276.73 80.95 L275.86 81.76 L275.36 82.97 L274.48 83.80 L273.48 84.49 L272.20 84.75 L271.07 85.15 L270.27 86.15 L269.31 86.94 L268.22 87.46 L267.03 87.73 L265.85 88.01 L264.70 88.39 L263.48 88.37 L262.31 88.71 L261.08 88.32 L259.90 87.78 L258.75 87.73 L257.61 87.55 L256.39 87.95 L255.19 87.95 L254.09 87.48 L253.01 87.02 L251.96 86.48 L250.86 86.11 L249.69 85.85 L248.79 85.04 L247.68 84.62 L246.63 84.06 L245.73 83.30 L244.64 82.75 L243.89 81.81 L242.91 81.10 L242.54 79.86 L242.24 78.63 L241.38 77.83 L240.68 76.90 L239.85 76.02 L239.01 75.10 L238.69 73.94 L238.29 72.82 L237.58 71.78 L237.25 70.62 L237.29 69.38 L236.82 68.23 L237.20 66.99 L236.99 65.80 L236.56 64.58 L236.62 63.35 L237.02 62.18 L237.57 61.05 L238.30 60.01 L239.03 59.02 L239.01 57.78 L239.73 56.82 L239.96 55.64 L240.36 54.52 L241.11 53.60 L241.47 52.41 L242.36 51.60 L242.85 50.45 L243.84 49.74 L244.96 49.21 L245.86 48.46 L246.83 47.81 L247.54 46.77 L248.50 46.05 L249.68 45.73 L250.87 45.53 L251.99 45.20 L253.13 44.98 L254.24 44.69 L255.27 44.00 L256.44 43.94 L257.56 43.54 L258.71 43.00 L259.90 42.89 L261.11 42.75 L262.31 42.85 L263.50 43.05 L264.62 43.61 L265.76 43.93 L266.99 43.98 L268.27 44.00 L269.26 44.79 L270.29 45.40 L271.37 45.93 L272.29 46.73 L273.16 47.55 L274.11 48.25 L274.90 49.14 L275.59 50.11 L276.59 50.77 L277.60 51.46 L278.78 52.09 L279.28 53.21 L279.81 54.30 L280.19 55.46 L280.49 56.63 L280.67 57.83 L281.19 58.88 L281.33 60.06 L281.50 61.21 L281.69 62.35 L282.05 63.47 L282.32 64.63 L281.86 65.80Z" fill="none" stroke="#b0a8d4" stroke-width="0.7" stroke-linejoin="round"/>
<path d="M279.45 65.00 L279.99 66.05 L281.01 67.22 L280.25 68.22 L280.06 69.29 L279.08 70.14 L278.46 71.03 L278.30 72.06 L278.00 73.06 L278.19 74.32 L276.79 74.75 L275.85 75.36 L274.71 75.76 L274.14 76.54 L273.59 77.32 L273.17 78.27 L272.04 78.49 L271.22 78.98 L270.83 80.04 L270.75 81.71 L269.64 81.87 L268.90 82.67 L267.64 82.39 L266.63 82.54 L265.60 82.54 L264.83 83.42 L263.89 83.76 L262.92 84.09 L261.92 84.26 L260.89 83.96 L259.90 83.70 L258.92 83.75 L257.86 84.40 L256.95 83.63 L256.04 83.15 L254.80 84.02 L253.65 84.23 L252.33 84.73 L251.15 84.65 L250.53 83.40 L249.79 82.51 L248.79 82.11 L248.33 80.93 L247.17 80.72 L246.91 79.43 L245.99 78.91 L245.34 78.11 L244.36 77.58 L243.65 76.81 L243.44 75.69 L243.59 74.42 L243.62 73.29 L242.96 72.54 L242.17 71.81 L241.60 70.95 L240.24 70.27 L240.46 69.13 L240.44 68.08 L241.02 66.98 L241.07 65.99 L241.48 65.00 L241.61 64.04 L242.19 63.14 L242.26 62.21 L242.09 61.21 L241.34 60.03 L241.27 58.95 L242.36 58.27 L242.90 57.43 L243.62 56.71 L243.39 55.47 L243.15 54.12 L243.90 53.37 L243.97 52.10 L244.95 51.54 L245.79 50.89 L245.99 49.55 L247.11 49.21 L248.33 49.07 L249.41 48.84 L250.56 48.83 L251.27 48.07 L251.92 47.09 L252.70 46.25 L253.63 45.70 L254.80 45.96 L255.90 46.17 L256.89 46.00 L257.87 45.67 L258.86 45.12 L259.90 45.35 L260.94 45.12 L261.96 45.41 L263.05 45.13 L264.14 45.04 L264.85 46.54 L265.53 47.68 L266.19 48.61 L267.03 48.98 L268.08 48.94 L269.24 48.83 L270.04 49.39 L271.19 49.46 L271.45 50.73 L272.83 50.64 L273.36 51.54 L274.56 51.80 L274.50 53.18 L275.64 53.57 L276.18 54.43 L277.34 54.93 L277.98 55.79 L278.16 56.87 L278.80 57.75 L278.08 59.09 L277.71 60.23 L278.51 61.04 L278.95 61.98 L279.33 62.96 L279.27 63.98 L279.45 65.00Z" fill="none" stroke="#8a8a8a" stroke-width="0.75" stroke-linejoin="round"/>
<ellipse cx="261" cy="65" rx="15.60" ry="15.60" fill="none" stroke="#555" stroke-width="0.8"/>
<line x1="219" y1="65" x2="320" y2="65" stroke="#555" stroke-width="0.85"/>
<line x1="261" y1="19.5" x2="261" y2="111" stroke="#888" stroke-width="0.85"/>
<text x="260.6" y="18.2" font-size="9.6" text-anchor="middle" fill="#1a1a1a" font-weight="normal" stroke="#1a1a1a" stroke-width="0.38" font-family="Liberation Sans, Arial, sans-serif" >90</text>
<rect x="204.5" y="60" width="15" height="10" fill="#fff"/>
<text x="211.5" y="69" font-size="9.6" text-anchor="middle" fill="#1a1a1a" font-weight="normal" stroke="#1a1a1a" stroke-width="0.38" font-family="Liberation Sans, Arial, sans-serif" >180</text>
<text x="261" y="120.4" font-size="9.6" text-anchor="middle" fill="#1a1a1a" font-weight="normal" stroke="#1a1a1a" stroke-width="0.38" font-family="Liberation Sans, Arial, sans-serif" >270</text>
<text x="261.2" y="74.3" font-size="9.6" text-anchor="middle" fill="#1a1a1a" font-weight="normal" stroke="#1a1a1a" stroke-width="0.38" font-family="Liberation Sans, Arial, sans-serif" >0</text>
<text x="276.2" y="74.3" font-size="9.6" text-anchor="middle" fill="#1a1a1a" font-weight="normal" stroke="#1a1a1a" stroke-width="0.38" font-family="Liberation Sans, Arial, sans-serif" >30</text>
<text x="293.8" y="74.3" font-size="9.6" text-anchor="middle" fill="#1a1a1a" font-weight="normal" stroke="#1a1a1a" stroke-width="0.38" font-family="Liberation Sans, Arial, sans-serif" >60</text>
<text x="318.0" y="74.3" font-size="9.6" text-anchor="middle" fill="#1a1a1a" font-weight="normal" stroke="#1a1a1a" stroke-width="0.38" font-family="Liberation Sans, Arial, sans-serif" >90</text>
<text x="313.6" y="18.8" font-size="10.6" text-anchor="start" fill="#111" font-weight="normal" stroke="#111" stroke-width="0.1" font-family="Liberation Sans, Arial, sans-serif" >(d)</text>
<text x="293.0" y="58.1" font-size="10" text-anchor="start" fill="#222" font-weight="normal" stroke="#222" stroke-width="0.2" font-family="Liberation Sans, Arial, sans-serif" >Ps</text>
<line x1="293" y1="61" x2="309.6" y2="61" stroke="#444" stroke-width="1.1"/>
<path d="M306.40000000000003 58.4 L310.6 61 L306.40000000000003 63.6" fill="none" stroke="#444" stroke-width="1"/>
<text x="312.8" y="55.3" font-size="8.8" text-anchor="start" fill="#111" font-weight="normal" stroke="#111" stroke-width="0.15" font-family="Liberation Sans, Arial, sans-serif" letter-spacing="0.6">Ph</text>
<text x="324.6" y="55.4" font-size="9" text-anchor="start" fill="#111" font-weight="bold" font-family="Liberation Sans, Arial, sans-serif" >i</text>
<line x1="322.9" y1="58.3" x2="322.9" y2="66.8" stroke="#111" stroke-width="1.3"/>
<path d="M320.4 61.3 L322.9 57.3 L325.4 61.3" fill="none" stroke="#111" stroke-width="1.2"/>
<ellipse cx="261" cy="185.4" rx="57.10" ry="57.10" fill="none" stroke="#555" stroke-width="0.85"/>
<ellipse cx="261" cy="185.4" rx="44.39" ry="43.10" fill="none" stroke="#555" stroke-width="0.85"/>
<ellipse cx="261" cy="185.4" rx="33.11" ry="32.30" fill="none" stroke="#555" stroke-width="0.85"/>
<ellipse cx="261" cy="185.4" rx="14.90" ry="15.20" fill="none" stroke="#555" stroke-width="0.85"/>
<line x1="219" y1="185.4" x2="318" y2="185.4" stroke="#8a8a8a" stroke-width="0.8"/>
<line x1="261" y1="140" x2="261" y2="233" stroke="#999" stroke-width="0.8"/>
<text x="260.6" y="138.7" font-size="9.6" text-anchor="middle" fill="#1a1a1a" font-weight="normal" stroke="#1a1a1a" stroke-width="0.38" font-family="Liberation Sans, Arial, sans-serif" >90</text>
<rect x="204.8" y="181" width="15" height="10" fill="#fff"/>
<text x="211.8" y="189.4" font-size="9.6" text-anchor="middle" fill="#1a1a1a" font-weight="normal" stroke="#1a1a1a" stroke-width="0.38" font-family="Liberation Sans, Arial, sans-serif" >180</text>
<text x="261" y="239.3" font-size="9.6" text-anchor="middle" fill="#1a1a1a" font-weight="normal" stroke="#1a1a1a" stroke-width="0.38" font-family="Liberation Sans, Arial, sans-serif" >270</text>
<text x="260.8" y="194.6" font-size="9.6" text-anchor="middle" fill="#1a1a1a" font-weight="normal" stroke="#1a1a1a" stroke-width="0.38" font-family="Liberation Sans, Arial, sans-serif" >0</text>
<text x="276.0" y="194.8" font-size="9.6" text-anchor="middle" fill="#1a1a1a" font-weight="normal" stroke="#1a1a1a" stroke-width="0.38" font-family="Liberation Sans, Arial, sans-serif" >30</text>
<text x="294.0" y="195.0" font-size="9.6" text-anchor="middle" fill="#1a1a1a" font-weight="normal" stroke="#1a1a1a" stroke-width="0.38" font-family="Liberation Sans, Arial, sans-serif" >60</text>
<text x="319.4" y="196.2" font-size="9.6" text-anchor="middle" fill="#1a1a1a" font-weight="normal" stroke="#1a1a1a" stroke-width="0.38" font-family="Liberation Sans, Arial, sans-serif" >90</text>
<text x="314.6" y="132.6" font-size="10.6" text-anchor="start" fill="#111" font-weight="normal" stroke="#111" stroke-width="0.1" font-family="Liberation Sans, Arial, sans-serif" >(e)</text>
<ellipse cx="249.6" cy="159" rx="2.3" ry="2.6" transform="rotate(0 249.6 159)" fill="#bcd6c8" stroke="#84968c" stroke-width="0.9"/>
<ellipse cx="289.6" cy="175.4" rx="2.3" ry="2.6" transform="rotate(0 289.6 175.4)" fill="#bcd6c8" stroke="#84968c" stroke-width="0.9"/>
<ellipse cx="232.3" cy="195.8" rx="2.3" ry="2.6" transform="rotate(0 232.3 195.8)" fill="#bcd6c8" stroke="#84968c" stroke-width="0.9"/>
<ellipse cx="271.3" cy="213.7" rx="2.3" ry="2.6" transform="rotate(0 271.3 213.7)" fill="#bcd6c8" stroke="#84968c" stroke-width="0.9"/>
<text x="299.8" y="176.9" font-size="9" text-anchor="start" fill="#5a5a5a" font-weight="normal" stroke="#5a5a5a" stroke-width="0.15" font-family="Liberation Sans, Arial, sans-serif" letter-spacing="0.3">Ps</text>
<text x="311.0" y="176.9" font-size="9" text-anchor="start" fill="#5a5a5a" font-weight="normal" stroke="#5a5a5a" stroke-width="0.15" font-family="Liberation Sans, Arial, sans-serif" >i</text>
<line x1="294.2" y1="182.6" x2="315" y2="182.6" stroke="#444" stroke-width="1.1"/>
<path d="M311.8 180.0 L316 182.6 L311.8 185.2" fill="none" stroke="#444" stroke-width="1"/>
<text x="315.8" y="168" font-size="8.7" text-anchor="start" fill="#000" font-weight="bold" font-family="Liberation Sans, Arial, sans-serif" letter-spacing="0.2">Phi</text>
<line x1="326.6" y1="171.3" x2="326.6" y2="186" stroke="#111" stroke-width="1.3"/>
<path d="M324.1 174.3 L326.6 170.3 L329.1 174.3" fill="none" stroke="#111" stroke-width="1.2"/>
<ellipse cx="261" cy="305.4" rx="57.79" ry="55.30" fill="none" stroke="#555" stroke-width="0.85"/>
<ellipse cx="261" cy="305.4" rx="36.33" ry="34.60" fill="none" stroke="#444" stroke-width="0.85"/>
<ellipse cx="261" cy="305.4" rx="33.02" ry="31.60" fill="none" stroke="#444" stroke-width="0.85"/>
<ellipse cx="261" cy="305.4" rx="24.73" ry="22.90" fill="none" stroke="#444" stroke-width="0.85"/>
<ellipse cx="261" cy="305.4" rx="15.66" ry="14.50" fill="none" stroke="#444" stroke-width="0.85"/>
<line x1="203" y1="305.4" x2="319.4" y2="305.4" stroke="#666" stroke-width="0.85"/>
<line x1="261" y1="262.8" x2="261" y2="348" stroke="#999" stroke-width="0.8"/>
<text x="261" y="260.6" font-size="9.6" text-anchor="middle" fill="#1a1a1a" font-weight="normal" stroke="#1a1a1a" stroke-width="0.38" font-family="Liberation Sans, Arial, sans-serif" >90</text>
<rect x="206" y="300" width="15" height="10" fill="#fff"/>
<text x="213.5" y="308.4" font-size="9.6" text-anchor="middle" fill="#1a1a1a" font-weight="normal" stroke="#1a1a1a" stroke-width="0.38" font-family="Liberation Sans, Arial, sans-serif" >180</text>
<text x="261" y="356.4" font-size="9.6" text-anchor="middle" fill="#1a1a1a" font-weight="normal" stroke="#1a1a1a" stroke-width="0.38" font-family="Liberation Sans, Arial, sans-serif" >270</text>
<text x="259.8" y="315.6" font-size="9.6" text-anchor="middle" fill="#1a1a1a" font-weight="normal" stroke="#1a1a1a" stroke-width="0.38" font-family="Liberation Sans, Arial, sans-serif" >0</text>
<text x="275.2" y="315.6" font-size="9.6" text-anchor="middle" fill="#1a1a1a" font-weight="normal" stroke="#1a1a1a" stroke-width="0.38" font-family="Liberation Sans, Arial, sans-serif" >30</text>
<text x="293.3" y="315.6" font-size="9.6" text-anchor="middle" fill="#1a1a1a" font-weight="normal" stroke="#1a1a1a" stroke-width="0.38" font-family="Liberation Sans, Arial, sans-serif" >60</text>
<text x="319.0" y="315.6" font-size="9.6" text-anchor="middle" fill="#1a1a1a" font-weight="normal" stroke="#1a1a1a" stroke-width="0.38" font-family="Liberation Sans, Arial, sans-serif" >90</text>
<text x="315" y="258" font-size="10.6" text-anchor="start" fill="#111" font-weight="normal" stroke="#111" stroke-width="0.1" font-family="Liberation Sans, Arial, sans-serif" >(f)</text>
<ellipse cx="249.2" cy="278.6" rx="1.7" ry="2.4" transform="rotate(-30 249.2 278.6)" fill="#a8c8a8" stroke="#6e9a78" stroke-width="0.9"/>
<ellipse cx="289.8" cy="295.6" rx="2.1" ry="1.9" transform="rotate(0 289.8 295.6)" fill="#e0e8e4" stroke="#9aa6a2" stroke-width="0.9"/>
<ellipse cx="232.7" cy="317" rx="1.6" ry="1.9" transform="rotate(0 232.7 317)" fill="#a8c8b0" stroke="#7a9c86" stroke-width="0.9"/>
<ellipse cx="271.6" cy="332.8" rx="2.2" ry="1.8" transform="rotate(0 271.6 332.8)" fill="#d8e4e0" stroke="#8a9894" stroke-width="0.9"/>
<text x="297.6" y="293.4" font-size="9" text-anchor="start" fill="#222" font-weight="normal" stroke="#222" stroke-width="0.2" font-family="Liberation Sans, Arial, sans-serif" letter-spacing="0.5">Ps</text>
<text x="309.2" y="293.4" font-size="9" text-anchor="start" fill="#222" font-weight="normal" stroke="#222" stroke-width="0.2" font-family="Liberation Sans, Arial, sans-serif" >i</text>
<line x1="282.4" y1="300.6" x2="310" y2="300.6" stroke="#222" stroke-width="1.2"/>
<path d="M306.8 298.0 L311 300.6 L306.8 303.20000000000005" fill="none" stroke="#222" stroke-width="1"/>
<text x="318.9" y="288.4" font-size="8.7" text-anchor="start" fill="#000" font-weight="bold" font-family="Liberation Sans, Arial, sans-serif" letter-spacing="0.2">Phi</text>
<line x1="326.6" y1="293.4" x2="326.6" y2="306.4" stroke="#000" stroke-width="1.7"/>
<path d="M323.8 296.4 L326.6 292.4 L329.40000000000003 296.4" fill="none" stroke="#000" stroke-width="1.2"/></svg>
</body></html>
